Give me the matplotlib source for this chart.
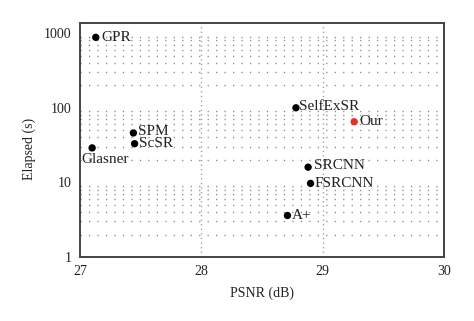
import matplotlib
matplotlib.use("Agg")
import matplotlib.pyplot as plt
from matplotlib.ticker import FixedLocator, NullFormatter

methods = ["GPR", "SPM", "ScSR", "Glasner", "SelfExSR", "Our", "SRCNN", "FSRCNN", "A+"]
psnr = [27.13, 27.44, 27.45, 27.10, 28.78, 29.26, 28.88, 28.90, 28.71]
elapsed = [880, 46, 33, 29, 100, 65, 16, 9.7, 3.6]
colors = ["black", "black", "black", "black", "black", "#e8302a", "black", "black", "black"]
xticks = [27, 28, 29, 30]
yticks = [1, 10, 100, 1000]
ytick_labels = ["1", "10", "100", "1000"]

plt.rcParams['font.family'] = ['Liberation Serif', 'DejaVu Serif']

fig = plt.figure(figsize=(4.74, 3.21), dpi=100)
ax = fig.add_axes([80/474, 1-257/321, 364/474, 234/321])
ax.set_yscale('log')
ax.set_xlim(27, 30)
ax.set_ylim(1, 1370)

# minor horizontal dotted grid
ax.yaxis.set_minor_locator(FixedLocator([m * d for d in [1, 10, 100] for m in range(2, 10)] + [1000]))
ax.yaxis.set_minor_formatter(NullFormatter())
ax.grid(True, which='minor', axis='y', color='#8a8a8a', linestyle=(0, (0.9, 5.2)), linewidth=1.0)
for v in [28, 29]:
    ax.axvline(v, color='#9a9a9a', linestyle=(0, (0.9, 2.4)), linewidth=1.0, zorder=1)

ax.scatter(psnr, elapsed, c=colors, s=28, zorder=3, edgecolors='none')

offsets = {
    "GPR": (4, 0, 'left', 'center'),
    "SPM": (3, 1, 'left', 'center'),
    "ScSR": (3, 0, 'left', 'center'),
    "Glasner": (-8, -4, 'left', 'top'),
    "SelfExSR": (2, 1, 'left', 'center'),
    "Our": (4, 0, 'left', 'center'),
    "SRCNN": (4, 1, 'left', 'center'),
    "FSRCNN": (3, 0, 'left', 'center'),
    "A+": (3, 0, 'left', 'center'),
}
for name, x, y in zip(methods, psnr, elapsed):
    dx, dy, ha, va = offsets[name]
    ax.annotate(name, (x, y), xytext=(dx, dy), textcoords='offset points',
                ha=ha, va=va, fontsize=11, color='#222222', zorder=4)

ax.set_xticks(xticks)
ax.set_xticklabels([str(t) for t in xticks])
ax.set_yticks(yticks)
ax.set_yticklabels(ytick_labels)
ax.tick_params(which='both', length=0, labelsize=10, colors='#222222', pad=6)
ax.set_xlabel("PSNR (dB)", fontsize=10, color='#222222')
ax.set_ylabel("Elapsed (s)", fontsize=10, color='#222222')
ax.xaxis.set_label_coords(0.5, -0.125)
ax.yaxis.set_label_coords(-0.12, 0.46)
for s in ax.spines.values():
    s.set_color('#444444')
    s.set_linewidth(1.4)

fig.savefig("out.png", dpi=100)
